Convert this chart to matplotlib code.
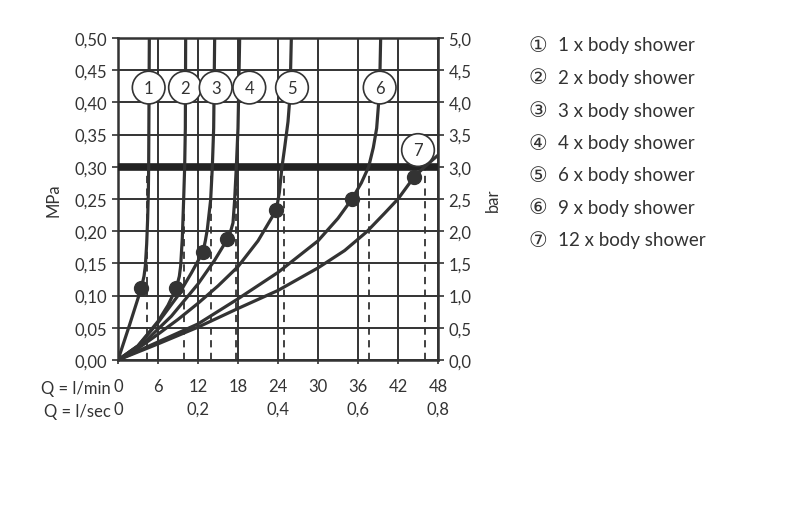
import numpy as np
import matplotlib
matplotlib.use('Agg')
import matplotlib.pyplot as plt

plt.rcParams['font.family'] = ['Lato', 'DejaVu Sans']

# =============================
# 1. DATA
# =============================

# curves: flow Q (l/min) vs pressure P (MPa)
q1 = [0, 1.75, 3.5, 3.9, 4.1, 4.3, 4.45, 4.55, 4.6, 4.65, 4.7]
p1 = [0, 0.055, 0.112, 0.13, 0.146, 0.18, 0.22, 0.26, 0.30, 0.40, 0.50]

q2 = [0, 3.0, 6.0, 7.5, 8.75, 9.2, 9.4, 9.65, 9.85, 10.0, 10.1, 10.15]
p2 = [0, 0.022, 0.06, 0.085, 0.112, 0.13, 0.146, 0.19, 0.25, 0.30, 0.36, 0.50]

q3 = [0, 3.0, 6.0, 9.0, 11.0, 12.75, 13.1, 13.4, 13.9, 14.15, 14.35, 14.5]
p3 = [0, 0.022, 0.058, 0.10, 0.135, 0.168, 0.185, 0.203, 0.249, 0.30, 0.36, 0.50]

q4 = [0, 4.0, 8.0, 12.0, 14.5, 16.4, 16.9, 17.25, 17.5, 17.75, 18.0, 18.25]
p4 = [0, 0.028, 0.068, 0.118, 0.155, 0.1875, 0.20, 0.213, 0.249, 0.30, 0.36, 0.50]

q5 = [0, 3.0, 6.0, 9.0, 12.0, 15.0, 18.0, 21.0, 23.75, 24.2, 24.6, 25.0, 25.5, 25.8, 26.0]
p5 = [0, 0.018, 0.04, 0.063, 0.088, 0.115, 0.145, 0.185, 0.233, 0.26, 0.30, 0.33, 0.37, 0.41, 0.50]

q6 = [0, 6.0, 12.0, 18.0, 24.0, 30.0, 33.0, 35.1, 36.5, 37.6, 38.3, 38.8, 39.1, 39.3, 39.4]
p6 = [0, 0.028, 0.056, 0.095, 0.136, 0.185, 0.22, 0.25, 0.275, 0.30, 0.33, 0.36, 0.40, 0.45, 0.50]

q7 = [0, 6.0, 12.0, 18.0, 24.0, 30.0, 34.0, 37.3, 40.0, 42.0, 44.4, 46.0, 48.0]
p7 = [0, 0.025, 0.051, 0.08, 0.108, 0.143, 0.17, 0.199, 0.228, 0.25, 0.284, 0.30, 0.318]

curves_q = [q1, q2, q3, q4, q5, q6, q7]
curves_p = [p1, p2, p3, p4, p5, p6, p7]

# operating points (dots)
dot_q = [3.5, 8.75, 12.75, 16.4, 23.75, 35.1, 44.4]
dot_p = [0.112, 0.112, 0.168, 0.1875, 0.233, 0.25, 0.284]

# flow at 0.3 MPa (dashed drop lines)
q_at_03 = [4.4, 9.85, 14.0, 17.75, 24.85, 37.65, 46.0]

# circle labels on curves
lab_text = ['1', '2', '3', '4', '5', '6', '7']
lab_q = [4.6, 10.05, 14.65, 19.7, 26.1, 39.25, 45.0]
lab_p = [0.423, 0.423, 0.423, 0.423, 0.423, 0.423, 0.326]

# axes ticks
mpa_ticks = [0.0, 0.05, 0.10, 0.15, 0.20, 0.25, 0.30, 0.35, 0.40, 0.45, 0.50]
mpa_labels = ['0,00', '0,05', '0,10', '0,15', '0,20', '0,25', '0,30', '0,35', '0,40', '0,45', '0,50']
bar_labels = ['0,0', '0,5', '1,0', '1,5', '2,0', '2,5', '3,0', '3,5', '4,0', '4,5', '5,0']
q_ticks = [0, 6, 12, 18, 24, 30, 36, 42, 48]
q_min_labels = ['0', '6', '12', '18', '24', '30', '36', '42', '48']
q_sec_labels = ['0', '', '0,2', '', '0,4', '', '0,6', '', '0,8']

legend_marks = ['①', '②', '③', '④', '⑤', '⑥', '⑦']
legend_texts = ['1 x body shower', '2 x body shower', '3 x body shower', '4 x body shower',
                '6 x body shower', '9 x body shower', '12 x body shower']

# =============================
# 2. PLOT
# =============================

dark = '#333333'

fig = plt.figure(figsize=(8, 5.1), dpi=100)
ax = fig.add_axes([118 / 800, 1 - 361 / 510, 320 / 800, 322 / 510])

ax.set_xlim(0, 48)
ax.set_ylim(0, 0.5)

# grid
for q in q_ticks:
    ax.axvline(q, color=dark, lw=1.4, zorder=1)
for p in mpa_ticks:
    ax.axhline(p, color=dark, lw=1.4, zorder=1)

# thick 0.3 MPa line
ax.axhline(0.30, color='#222222', lw=5.5, zorder=3)

# dashed drop lines
for q in q_at_03:
    ax.plot([q, q], [0, 0.30], color=dark, lw=1.3, ls=(0, (4, 3)), zorder=2)

# curves
for qs, ps in zip(curves_q, curves_p):
    ax.plot(qs, ps, color=dark, lw=2.3, zorder=4, solid_joinstyle='round')

ax.plot(dot_q, dot_p, 'o', color=dark, ms=10, zorder=5)

# circle labels
for t, q, p in zip(lab_text, lab_q, lab_p):
    ax.text(q, p, t, ha='center', va='center', fontsize=12, color=dark, zorder=6,
            bbox=dict(boxstyle='circle,pad=0.5', fc='white', ec=dark, lw=1.2))

# axes styling
for side in ['left', 'right', 'top', 'bottom']:
    ax.spines[side].set_linewidth(1.8)
    ax.spines[side].set_color(dark)

ax.set_yticks(mpa_ticks, mpa_labels)
ax.tick_params(axis='y', direction='out', length=4, width=1.2, colors=dark,
               labelsize=12, labelcolor=dark)

ax2 = ax.twinx()
ax2.set_ylim(0, 5.0)
ax2.set_yticks(np.array(mpa_ticks) * 10, bar_labels)
ax2.tick_params(axis='y', direction='out', length=4, width=1.2, colors=dark,
                labelsize=12, labelcolor=dark)
for side in ['left', 'right', 'top', 'bottom']:
    ax2.spines[side].set_visible(False)

xlabels = [a + '\n' + b for a, b in zip(q_min_labels, q_sec_labels)]
ax.set_xticks(q_ticks, xlabels)
ax.tick_params(axis='x', direction='out', length=3, width=1.2, colors=dark,
               labelsize=12, labelcolor=dark, pad=10)
for lbl in ax.get_xticklabels():
    lbl.set_linespacing(1.5)

fig.text(111 / 800, 1 - 389 / 510, 'Q = l/min', ha='right', va='center', fontsize=12, color=dark)
fig.text(111 / 800, 1 - 412 / 510, 'Q = l/sec', ha='right', va='center', fontsize=12, color=dark)

ax.set_ylabel('MPa', fontsize=12, color=dark, labelpad=10)
ax2.set_ylabel('bar', fontsize=12, color=dark, labelpad=10, rotation=90)

# legend on the right
for i, (m, t) in enumerate(zip(legend_marks, legend_texts)):
    y = 1 - (46 + i * 32.5) / 510
    fig.text(538 / 800, y, m, ha='center', va='center', fontsize=15, color=dark,
             family=['DejaVu Sans'])
    fig.text(558 / 800, y, t, ha='left', va='center', fontsize=13.5, color=dark)

fig.savefig('out.png', dpi=100)
